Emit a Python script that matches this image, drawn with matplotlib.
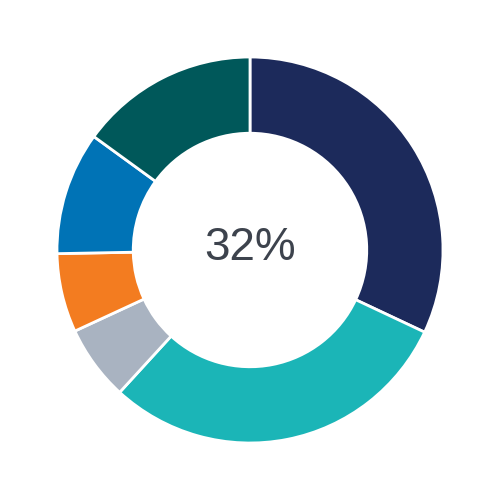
import matplotlib.pyplot as plt

labels = ["A", "B", "C", "D", "E", "F"]
values = [32, 29.8, 6.3, 6.6, 10.3, 15]
colors = ["#1c2a5b", "#1bb5b7", "#a9b3c1", "#f37c20", "#0073b6", "#00585a"]
center_text = "32%"

fig = plt.figure(figsize=(5, 5), dpi=100)
ax = fig.add_axes([0, 0, 1, 1])

ax.pie(values, colors=colors, startangle=90, counterclock=False,
       wedgeprops=dict(width=0.395, edgecolor="white", linewidth=2))
ax.text(0, 0.01, center_text, ha="center", va="center", fontsize=33,
        color="#3d434d", family="Liberation Sans")

lim = 250 / 193
ax.set_xlim(-lim, lim)
ax.set_ylim(-lim, lim)
ax.set_aspect("equal")
ax.axis("off")

fig.savefig("out.png", dpi=100, facecolor="white")
